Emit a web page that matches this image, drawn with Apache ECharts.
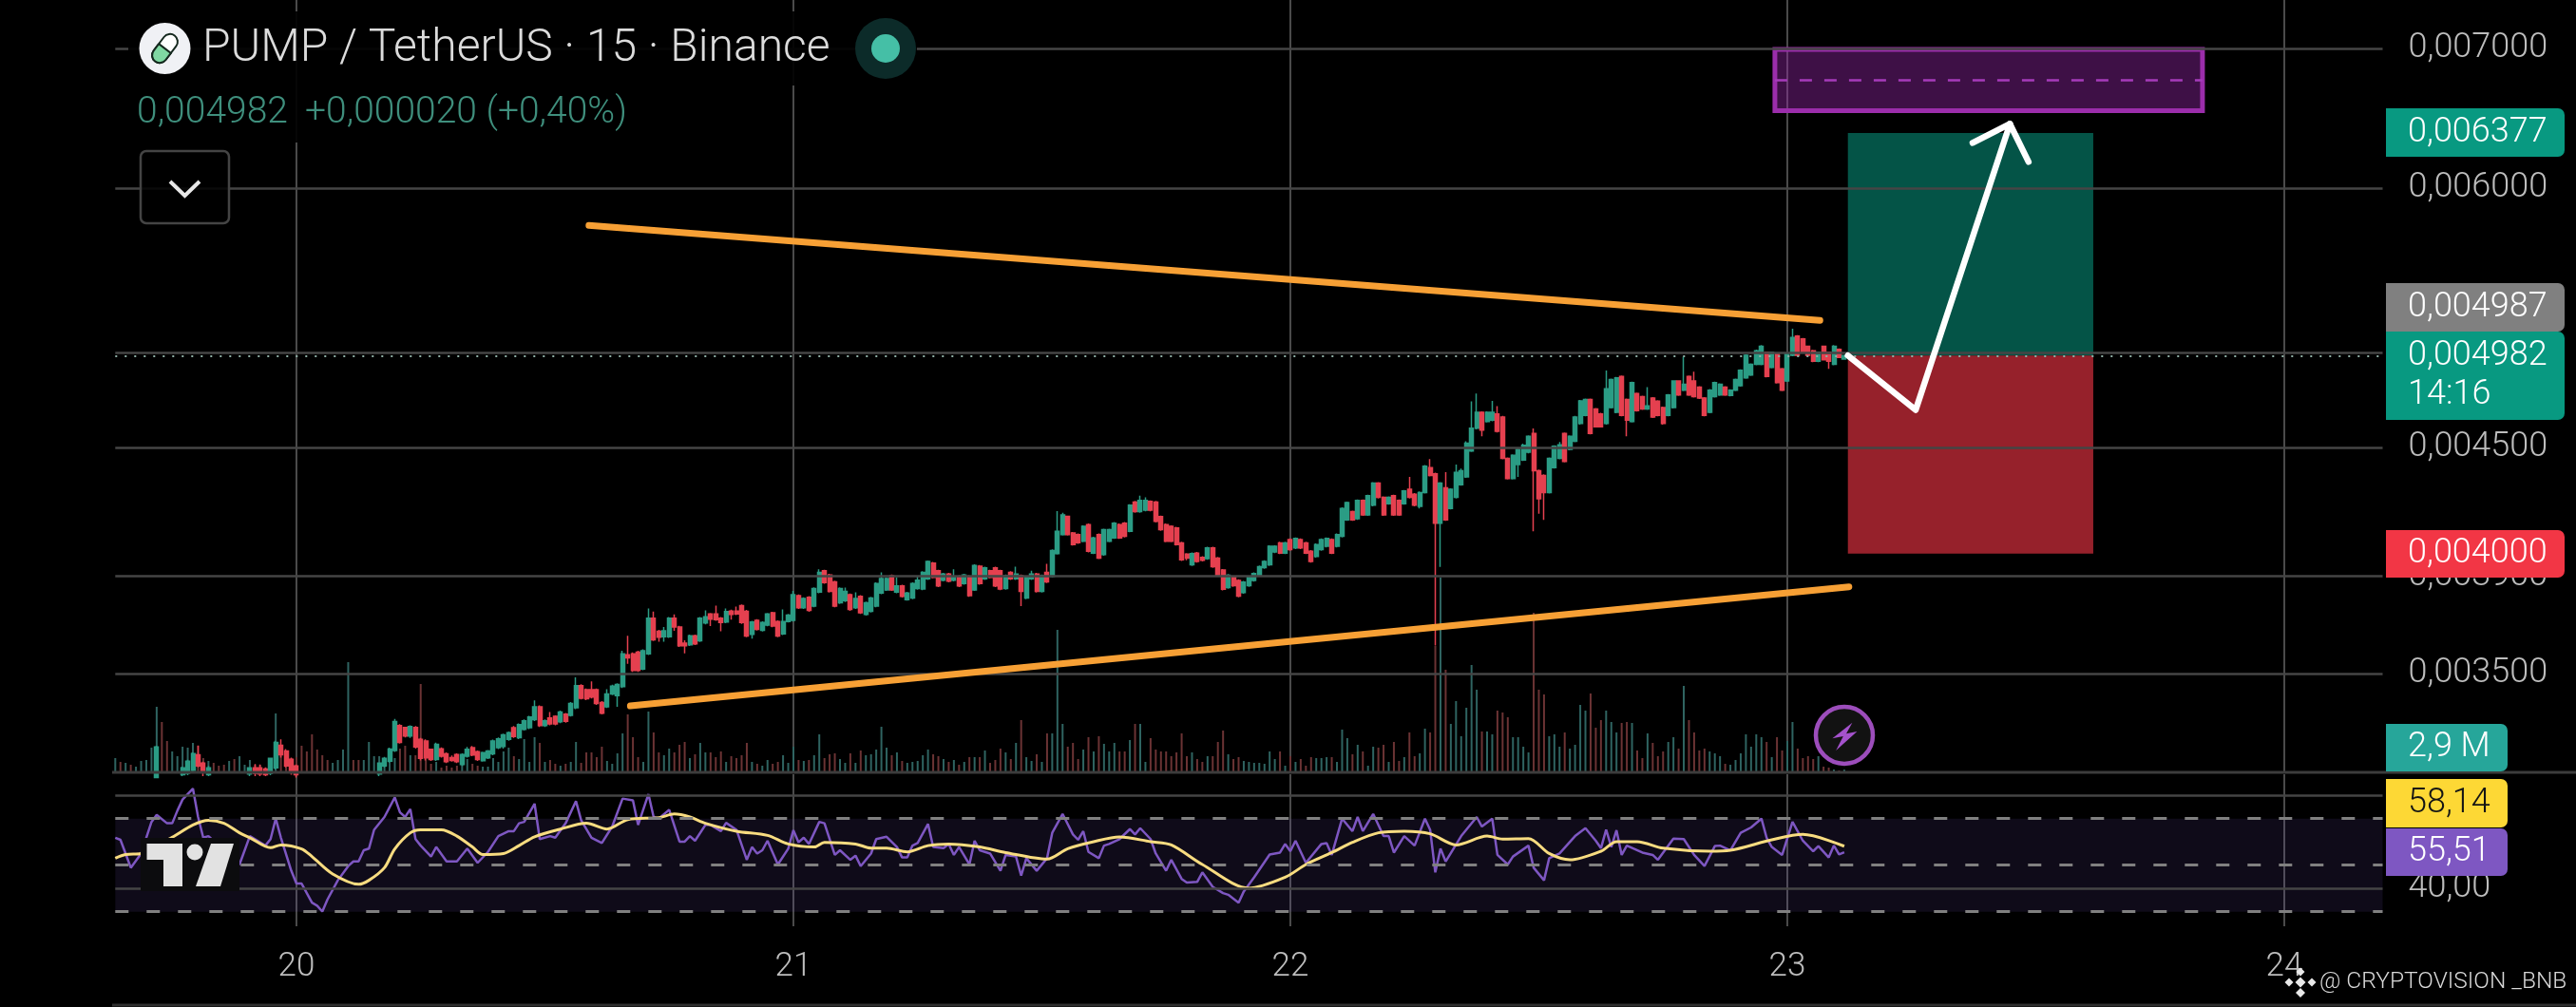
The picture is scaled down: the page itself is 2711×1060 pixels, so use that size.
<!DOCTYPE html>
<html><head><meta charset="utf-8">
<style>html,body{margin:0;padding:0;background:#000}#c{width:2711px;height:1060px}</style>
<script src="https://cdn.jsdelivr.net/npm/echarts@6/dist/echarts.min.js"></script>
</head><body><div id="c"></div>
<script>
// Prices are in millionths of USDT; 15-minute candles.
const opens=[3095,3100,3092,3098,3090,3094,3102,3108,3120,3120,
3112,3105,3110,3130,3135,3145,3200,3170,3130,3125,
3118,3110,3104,3112,3106,3112,3132,3154,3154,3150,
3135,3154,3234,3213,3184,3160,3130,3122,3115,3104,
3096,3090,3086,3094,3100,3108,3114,3110,3104,3112,
3118,3132,3160,3177,3215,3305,3298,3267,3298,3255,
3249,3219,3183,3221,3203,3190,3201,3165,3195,3225,
3211,3179,3189,3203,3225,3229,3255,3297,3261,3291,
3297,3327,3375,3305,3333,3339,3319,3347,3343,3371,
3455,3439,3439,3439,3391,3375,3423,3417,3451,3575,
3579,3585,3519,3579,3723,3669,3647,3647,3723,3687,
3621,3615,3651,3631,3703,3741,3741,3723,3707,3753,
3753,3775,3752,3657,3714,3673,3695,3746,3709,3659,
3709,3714,3817,3766,3810,3773,3832,3924,3906,3876,
3787,3796,3821,3766,3814,3739,3752,3773,3828,3842,
3903,3832,3859,3800,3807,3848,3846,3889,3958,3924,
3883,3910,3883,3900,3869,3900,3842,3944,3889,3924,
3937,3924,3848,3917,3889,3903,3807,3889,3910,3835,
3917,3900,4000,4085,4168,4092,4085,4055,4130,4002,
4085,3995,4055,4070,4130,4137,4100,4235,4190,4197,
4238,4235,4167,4130,4122,4115,4047,3997,3950,4002,
3983,3977,4025,3980,3927,3852,3897,3882,3830,3860,
3882,3905,3938,3950,4007,4047,4002,4062,4025,4062,
4047,4010,3987,4017,4032,4062,4032,4077,4152,4190,
4157,4242,4175,4220,4325,4257,4227,4265,4242,4227,
4295,4272,4215,4280,4400,4370,4137,4302,4205,4257,
4317,4355,4482,4596,4678,4630,4637,4670,4654,4445,
4347,4415,4437,4475,4570,4385,4362,4280,4400,4445,
4570,4490,4530,4620,4662,4745,4695,4670,4620,4703,
4678,4868,4745,4630,4777,4760,4695,4752,4736,4703,
4662,4703,4843,4794,4868,4843,4810,4752,4678,4760,
4769,4810,4766,4794,4818,4860,4876,4934,4934,5000,
4917,4992,4909,4843,4983,5091,5075,5033,5008,4950,
5033,5000,4934,5016,4962];
const closes=[3100,3092,3098,3090,3094,3102,3108,3120,3228,3112,
3105,3110,3125,3154,3177,3204,3160,3137,3154,3118,
3110,3104,3112,3106,3112,3125,3154,3135,3132,3130,
3187,3244,3200,3160,3137,3130,3122,3115,3104,3096,
3090,3086,3094,3100,3108,3114,3110,3104,3112,3118,
3126,3170,3187,3220,3320,3244,3267,3302,3228,3187,
3189,3183,3237,3195,3175,3180,3175,3201,3219,3199,
3183,3207,3213,3249,3257,3271,3279,3265,3309,3323,
3337,3375,3305,3323,3311,3311,3355,3321,3387,3455,
3407,3405,3411,3387,3351,3423,3453,3459,3579,3563,
3513,3513,3591,3723,3635,3645,3671,3723,3687,3611,
3611,3651,3619,3723,3729,3719,3717,3705,3751,3739,
3741,3705,3650,3707,3677,3705,3741,3691,3650,3709,
3736,3821,3766,3805,3755,3848,3917,3873,3835,3773,
3848,3835,3759,3805,3746,3787,3807,3869,3890,3890,
3842,3859,3814,3828,3869,3883,3917,3965,3896,3859,
3910,3879,3900,3859,3906,3817,3947,3869,3937,3896,
3859,3846,3903,3889,3910,3835,3896,3910,3835,3903,
3876,4013,4100,4175,4085,4040,4048,4122,4010,4070,
3980,4107,4107,4137,4070,4077,4220,4190,4242,4242,
4197,4145,4107,4055,4055,4040,3972,3980,4000,3965,
3970,4025,3942,3905,3845,3905,3860,3815,3875,3897,
3912,3942,3965,4032,4032,4002,4047,4017,4067,4025,
4002,3965,4040,4062,4067,4002,4085,4205,4232,4152,
4242,4175,4265,4325,4257,4175,4257,4175,4175,4287,
4257,4220,4280,4407,4362,4137,4325,4152,4295,4377,
4385,4520,4596,4678,4587,4678,4678,4580,4445,4347,
4460,4490,4510,4555,4385,4250,4280,4445,4505,4512,
4430,4555,4653,4737,4745,4570,4604,4604,4802,4851,
4860,4662,4637,4835,4687,4695,4712,4653,4662,4620,
4769,4843,4769,4826,4769,4760,4752,4662,4794,4835,
4826,4769,4794,4851,4901,4983,4934,5008,5033,4868,
5000,4835,4794,4992,5083,4983,5000,4983,4950,5000,
4959,4950,5033,4972,4982];
const lows=[3090,3088,3086,3085,3086,3090,3098,3104,3130,3105,
3098,3100,3106,3125,3128,3140,3155,3125,3125,3110,
3102,3098,3100,3100,3102,3108,3125,3125,3125,3125,
3128,3148,3190,3155,3130,3120,3115,3108,3098,3090,
3084,3080,3082,3090,3096,3102,3105,3100,3100,3108,
3114,3125,3155,3172,3210,3240,3262,3260,3222,3180,
3180,3178,3178,3190,3170,3175,3170,3160,3190,3195,
3178,3175,3185,3198,3220,3222,3250,3260,3256,3287,
3292,3322,3300,3300,3306,3306,3314,3316,3338,3366,
3402,3400,3406,3382,3346,3370,3418,3375,3446,3539,
3508,3508,3514,3574,3630,3627,3627,3642,3671,3606,
3581,3610,3614,3626,3698,3691,3712,3669,3702,3717,
3736,3700,3645,3640,3672,3668,3690,3686,3645,3654,
3705,3709,3761,3761,3750,3768,3827,3868,3830,3768,
3782,3790,3754,3761,3741,3734,3747,3768,3823,3837,
3837,3827,3809,3796,3802,3843,3841,3884,3891,3854,
3878,3874,3878,3854,3864,3812,3837,3864,3884,3891,
3854,3841,3843,3884,3884,3773,3802,3884,3830,3830,
3871,3895,3995,4080,4080,4035,4043,4050,4005,3997,
3975,3990,4050,4065,4065,4072,4095,4185,4185,4192,
4192,4140,4102,4050,4050,4035,3967,3970,3945,3960,
3965,3972,3937,3900,3840,3847,3855,3810,3825,3855,
3877,3900,3933,3945,4002,3997,3997,4012,4020,4020,
3997,3960,3982,4012,4027,3997,4027,4072,4147,4147,
4152,4170,4170,4215,4252,4170,4222,4170,4170,4222,
4252,4215,4205,4275,4357,3612,3941,4147,4200,4252,
4312,4350,4477,4590,4555,4625,4632,4575,4440,4342,
4342,4355,4432,4470,4100,4180,4152,4275,4395,4440,
4425,4485,4525,4615,4657,4565,4600,4600,4615,4698,
4673,4657,4555,4625,4682,4690,4690,4648,4657,4615,
4657,4698,4764,4789,4764,4755,4747,4657,4673,4755,
4764,4764,4761,4789,4813,4855,4871,4929,4929,4863,
4912,4830,4789,4838,4978,4978,4995,4978,4945,4945,
4954,4909,4929,4967,4960];
const highs=[3106,3104,3102,3101,3099,3106,3112,3124,3232,3125,
3116,3114,3130,3158,3182,3208,3233,3175,3160,3130,
3122,3114,3116,3118,3118,3130,3156,3167,3165,3155,
3190,3250,3255,3220,3190,3165,3134,3126,3120,3108,
3100,3094,3098,3104,3112,3120,3118,3114,3116,3122,
3130,3172,3192,3225,3330,3310,3300,3306,3303,3260,
3255,3222,3243,3226,3208,3197,3205,3205,3228,3231,
3215,3211,3217,3254,3262,3276,3283,3303,3313,3328,
3341,3399,3380,3328,3355,3343,3360,3352,3392,3487,
3460,3444,3471,3444,3396,3441,3458,3464,3591,3651,
3584,3591,3597,3763,3751,3675,3687,3728,3739,3692,
3633,3656,3656,3728,3755,3745,3775,3728,3763,3758,
3771,3780,3757,3712,3719,3710,3745,3750,3714,3759,
3741,3837,3822,3810,3815,3853,3931,3929,3911,3881,
3853,3852,3826,3831,3819,3792,3812,3874,3917,3895,
3908,3896,3864,3833,3874,3903,3922,3969,3963,3929,
3915,3915,3931,3905,3911,3905,3952,3949,3942,3929,
3942,3929,3908,3922,3942,3908,3901,3924,3915,3908,
3954,4018,4193,4185,4172,4097,4090,4127,4135,4075,
4090,4112,4112,4142,4135,4142,4225,4240,4265,4257,
4243,4240,4172,4135,4127,4120,4052,4002,4005,4007,
3988,4030,4030,3985,3932,3910,3902,3887,3880,3902,
3917,3947,3970,4037,4037,4052,4052,4067,4072,4067,
4052,4015,4045,4067,4072,4067,4090,4210,4237,4195,
4247,4247,4270,4330,4330,4262,4262,4270,4247,4292,
4355,4277,4285,4412,4442,4375,4330,4378,4300,4415,
4395,4530,4735,4777,4683,4683,4737,4710,4660,4450,
4465,4495,4518,4560,4595,4390,4367,4450,4510,4527,
4575,4560,4660,4742,4750,4750,4700,4675,4900,4856,
4865,4873,4750,4840,4782,4765,4810,4757,4741,4708,
4774,4848,4848,4975,4873,4893,4815,4757,4800,4840,
4831,4815,4799,4856,4906,4988,4939,5015,5040,5005,
5005,4997,4914,4997,5133,5096,5080,5038,5013,5005,
5038,5005,5040,5021,4985];
const volumes=[15,11,10,8,6,12,13,26,69,53,
33,22,17,27,26,31,28,15,12,10,
7,8,12,14,17,8,13,8,8,5,
15,62,28,22,15,16,28,22,40,24,
18,13,10,13,24,116,13,13,13,32,
17,17,13,15,15,25,28,18,18,93,
22,9,11,5,7,5,7,9,14,9,
7,6,6,15,11,22,26,17,14,35,
11,37,31,11,13,9,7,9,11,32,
10,21,21,16,27,12,9,20,41,61,
37,16,11,64,42,21,18,25,21,29,
32,15,19,31,21,21,16,22,11,17,
15,18,31,11,9,7,13,9,11,18,
10,27,13,12,13,18,40,15,19,20,
14,10,20,10,23,18,19,24,48,26,
18,21,12,10,11,12,18,24,19,17,
14,11,13,8,11,16,16,16,23,10,
13,25,21,14,31,55,16,12,19,11,
41,41,150,51,27,31,14,24,37,22,
38,30,22,31,22,22,34,51,51,11,
36,24,22,22,17,21,41,17,21,14,
11,17,17,32,44,19,14,16,12,11,
10,10,9,22,14,22,7,17,11,14,
7,16,15,15,16,16,11,45,36,19,
29,22,7,27,26,29,11,32,12,16,
42,17,20,46,42,133,205,108,51,75,
38,68,113,87,43,43,40,65,63,58,
37,37,27,21,168,87,82,38,40,27,
42,25,29,71,65,83,47,55,65,53,
42,52,53,52,23,15,41,31,17,22,
32,37,25,91,55,42,23,25,22,20,
17,9,8,13,20,40,27,40,37,32,
16,37,23,33,53,25,15,17,14,17,
6,5,3,2,2.9];
const rsiPoints=[[0,61.8],[1,60.9],[2,55],[3,48.9],[5,55],[7,68.6],[8,71.6],[10,68],[11,68],[12,73.4],[13,78.2],[15,82.9],[16,70.7],[17,61.8],[18,62.5],[20,58.4],[21,55],[22,52.3],[24,50.3],[26,62.5],[29,58.4],[30,61.2],[31,70],[32,61.8],[34,47.6],[35,42.1],[36,42.1],[38,33.9],[39,32.6],[40,30.1],[41,35.3],[43,43.5],[45,49.6],[46,51.6],[47,51.6],[48,56.4],[49,57.1],[50,65.2],[52,70.7],[54,79.1],[55,72.7],[56,70.7],[57,74.1],[58,61.2],[59,58.4],[61,53.7],[62,57.8],[64,51.6],[66,51.6],[68,57.1],[70,51],[72,55.7],[74,62.5],[76,64.6],[77,64.6],[78,68],[79,68.6],[81,76.4],[82,61.2],[84,62.5],[85,61.8],[87,68],[89,77.5],[90,69.3],[92,61.8],[94,59.5],[96,66.6],[98,78.6],[100,77.8],[101,67.3],[103,80.5],[104,70.7],[105,70],[107,73.8],[109,60.1],[110,60.1],[111,62.5],[112,60.5],[114,67.3],[115,67.3],[117,64.6],[118,68.2],[120,65.2],[122,52.3],[123,57.8],[124,55],[125,56.4],[126,60.5],[128,50.3],[130,57.1],[131,65],[132,59.8],[133,61.8],[134,59.1],[136,68.6],[137,68],[139,54.4],[140,56.4],[142,52.3],[143,54.1],[144,49.6],[146,55],[147,61.2],[149,62.2],[151,57.8],[152,53.3],[153,53.3],[154,58.4],[155,59.5],[157,67.7],[158,57.8],[160,57.3],
[161,59.1],[162,54.4],[163,57.8],[165,50.3],[166,60.5],[167,56.4],[169,55],[171,47.6],[172,54.4],[174,53.7],[175,45.5],[176,53],[178,47.6],[180,53],[181,63.9],[183,72],[185,63.2],[186,60.9],[187,64.6],[188,55.7],[190,53],[191,58.4],[192,59.1],[194,61.2],[196,65.5],[197,63.2],[198,65.9],[200,61.2],[201,55],[203,47.6],[204,52.3],[206,44.1],[207,42.5],[209,42.8],[210,46.9],[212,40.7],[214,38],[215,37.3],[217,33.9],[218,38.7],[220,44.8],[223,54.6],[225,55.4],[226,59.1],[227,56],[228,60.5],[230,51],[233,59.1],[234,59.5],[235,54.4],[237,70],[239,64.6],[240,70.7],[241,64.6],[243,72],[245,62.5],[246,62.5],[247,55.4],[249,62.5],[251,58.4],[253,70],[254,65.2],[255,46.9],[256,57.1],[257,51.6],[260,62.5],[263,70.7],[264,66.6],[266,70],[267,54.4],[269,50.3],[270,53.7],[273,58.4],[274,48.9],[276,43.5],[277,53],[279,55],[282,62.5],[284,65.9],[286,60.5],[287,57.3],[288,65.2],[289,57.8],[290,65],[291,54.4],[292,58.4],[295,55.4],[297,54.4],[298,52.3],[301,61.4],[303,61.2],[305,54.4],[307,49.6],[309,58.2],[310,58.4],[312,56.4],[314,63.9],[316,66.2],[318,70],[319,61.8],[320,57.8],[322,54.4],[324,68.6],[326,60.5],[328,56],[329,58.2],[331,53.3],[332,58.4],[333,54.6],[334,55.51]];
const rsiMaPoints=[[0,53],[2,54.6],[5,55],[11,62],[15,67.3],[18,69.3],[21,68],[24,63.9],[26,61.8],[30,57.5],[32,58.7],[36,57],[38,53.7],[42,46.2],[47,41.8],[49,43.5],[52,48.9],[54,57],[57,63.9],[59,65.2],[63,65.2],[66,62.5],[69,57.8],[71,54.6],[75,55],[78,58.4],[81,62.2],[86,65.5],[91,68],[95,65.5],[99,69.6],[105,70.4],[108,72],[111,70.7],[114,68],[120,64.6],[126,62.8],[130,59.1],[135,57.8],[137,59.8],[143,59.1],[146,57.3],[149,57.3],[153,55.7],[157,58.4],[161,59.1],[167,57.8],[172,55.4],[180,52.6],[184,57.1],[189,60.1],[194,62.1],[200,60.1],[204,58.7],[210,50.3],[219,40.1],[226,44.8],[230,50.3],[235,55.4],[239,59.8],[244,63.9],[249,64.6],[254,63.5],[259,58.7],[265,62.5],[268,61.2],[273,61.4],[277,55],[281,52.3],[287,56],[290,60.1],[294,60.1],[299,57.3],[308,56],[312,56.4],[320,60.9],[326,63.2],[334,58.14]];
const dayIndex=[35,131,227,323,419];
const dayLabels=['20','21','22','23','24'];
const priceTicks=[7000,6000,5000,4500,3900,3500];
const rsiGridLevels=[40,80];
const rsiBands=[70,50,30];
// Drawings, as [bar position, price]
const upperTrend=[[91.5,5755],[329.3,5180]];
const lowerTrend=[[99.5,3378],[334.9,3855]];
const arrowPath=[[334.7,4982],[347.8,4690],[366,6441]];
const arrowHead=[[358.8,6307],[366,6441],[369.6,6176]];
const longBox=[334.7,382.1,4982,6377];
const shortBox=[334.7,382.1,4000,4982];
const targetBox=[320.6,403.2,6537,6996];
const targetMid=6761;
const lastPrice=4982;

const barCount=439, M=1e6;
const categories=Array.from({length:barCount},(_,i)=>{const k=dayIndex.indexOf(i);return k>=0?dayLabels[k]:''});
const isDay=i=>dayIndex.includes(i);
const px=v=>v/M;
const candleData=opens.map((o,i)=>[px(o),px(closes[i]),px(lows[i]),px(highs[i])]);
const toPrice=a=>a.map(p=>[p[0],px(p[1])]);
const comma=(v,d)=>v.toFixed(d).replace('.',',');
const hLine=p=>[{coord:[0,px(p)]},{coord:[barCount-1,px(p)]}];

const L=121.3, W=2386.2;
const gridColor='#454545';
const baseX={type:'category',data:categories,boundaryGap:false,axisLine:{show:false},axisTick:{show:false},axisLabel:{show:false},splitLine:{show:false}};
const line=(data,color,width,extra)=>Object.assign({type:'line',xAxisIndex:3,yAxisIndex:0,data:data,symbol:'none',silent:true,animation:false,z:6,
  lineStyle:{color:color,width:width,cap:'round',join:'round'}},extra||{});
const box=(b,fill,border,bw)=>[{coord:[b[0],px(b[3])],itemStyle:{color:fill,borderColor:border||'transparent',borderWidth:bw||0}},{coord:[b[1],px(b[2])]}];

const font36='300 36px Roboto';
const tag=(x,y,w,h,fill,textFill,text,text2)=>{const out=[
  {type:'rect',z:60,shape:{x:x,y:y,width:w,height:h,r:[0,7,7,0]},style:{fill:fill}},
  {type:'text',z:61,style:{x:2534,y:text2?y+26:y+h/2,text:text,fill:textFill,font:font36,textVerticalAlign:'middle'}}];
  if(text2)out.push({type:'text',z:61,style:{x:2534,y:y+67,text:text2,fill:textFill,font:font36,textVerticalAlign:'middle'}});
  return out;};
const diamond=(cx,cy,r)=>({type:'polygon',z:61,shape:{points:[[cx,cy-r],[cx+r,cy],[cx,cy+r],[cx-r,cy]]},style:{fill:'#e8e8e8'}});

const graphic=[].concat(
 [{type:'line',z:40,shape:{x1:118,y1:813,x2:2711,y2:813},style:{stroke:'#3c3c3c',lineWidth:3}},
  {type:'line',z:40,shape:{x1:118,y1:1058,x2:2711,y2:1058},style:{stroke:'#2e2e2e',lineWidth:3}},
  {type:'rect',z:50,shape:{x:135,y:12,width:830,height:78},style:{fill:'rgba(0,0,0,0.92)'}},
  {type:'rect',z:50,shape:{x:135,y:90,width:545,height:60},style:{fill:'rgba(0,0,0,0.92)'}},
  {type:'circle',z:55,shape:{cx:173.5,cy:51,r:27},style:{fill:'#f0f1f5'}},
  {type:'group',z:56,x:173.5,y:51,rotation:-0.65,children:[
    {type:'rect',z:56,shape:{x:-8,y:-17,width:16,height:34,r:8},style:{fill:'#ffffff',stroke:'#14281e',lineWidth:2}},
    {type:'rect',z:57,shape:{x:-8,y:0,width:16,height:17,r:[0,0,8,8]},style:{fill:'#7fd8a2',stroke:'#14281e',lineWidth:2}}]},
  {type:'text',z:55,style:{x:213,y:52,text:'PUMP / TetherUS · 15 · Binance',fill:'#dcdcdc',font:'300 48px Roboto',textVerticalAlign:'middle'}},
  {type:'circle',z:55,shape:{cx:932,cy:51,r:32},style:{fill:'#0c2b29'}},
  {type:'circle',z:56,shape:{cx:932,cy:51,r:15},style:{fill:'#45bfa6'}},
  {type:'text',z:55,style:{x:144,y:119,text:'0,004982',fill:'#3f8f7d',font:'300 39px Roboto',textVerticalAlign:'middle'}},
  {type:'text',z:55,style:{x:321,y:119,text:'+0,000020 (+0,40%)',fill:'#3f8f7d',font:'300 39px Roboto',textVerticalAlign:'middle'}},
  {type:'rect',z:55,shape:{x:148,y:159,width:93,height:76,r:6},style:{fill:'rgba(0,0,0,0.85)',stroke:'#444',lineWidth:2.5}},
  {type:'polyline',z:56,shape:{points:[[179,191],[194.5,206],[210,191]]},style:{stroke:'#e8e8e8',lineWidth:4,fill:'none'}},
  // TradingView logo
  {type:'rect',z:50,shape:{x:148,y:882,width:104,height:56},style:{fill:'#0c0c0e'}},
  {type:'polygon',z:55,shape:{points:[[154.5,888],[192,888],[192,933],[172,933],[172,905],[154.5,905]]},style:{fill:'#e2e2e2'}},
  {type:'circle',z:55,shape:{cx:205,cy:897,r:8.5},style:{fill:'#e2e2e2'}},
  {type:'polygon',z:55,shape:{points:[[246,888],[222,888],[206,933],[232,933]]},style:{fill:'#e2e2e2'}},
  // bolt badge
  {type:'circle',z:55,shape:{cx:1941,cy:774,r:30},style:{fill:'#121212',stroke:'#9c4dbb',lineWidth:4.5}},
  {type:'polygon',z:56,shape:{points:[[1949.4,760.7],[1928.4,777.3],[1939.8,775],[1932.2,790],[1954.4,770],[1943,772.3]]},style:{fill:'#a452cc'}},
  // watermark
  diamond(2421,1034,5.5),diamond(2409,1034,4.5),diamond(2433,1034,4.5),diamond(2421,1023,4.5),diamond(2421,1045,5),
  {type:'text',z:61,style:{x:2441,y:1034,text:'@ CRYPTOVISION _BNB',fill:'#d8d8d8',font:'300 24.5px Roboto',textVerticalAlign:'middle'}}],
 tag(2511,114,188,51,'#089981','#ffffff','0,006377'),
 tag(2511,298,188,51,'#808080','#ffffff','0,004987'),
 tag(2511,349,188,93,'#089981','#ffffff','0,004982','14:16'),
 tag(2511,558,188,50,'#f23645','#ffffff','0,004000'),
 tag(2511,762,128,50,'#26a69a','#ffffff','2,9 M'),
 tag(2511,820,128,51,'#fdd835','#141414','58,14'),
 tag(2511,872,128,50,'#7e57c2','#ffffff','55,51')
);

const chart=echarts.init(document.getElementById('c'),null,{renderer:'canvas',width:2711,height:1060});
chart.setOption({
 animation:false,backgroundColor:'#000',
 grid:[{left:L,width:W,top:0,height:813},{left:L,width:W,top:413,height:400},{left:L,width:W,top:815,height:160}],
 xAxis:[
  Object.assign({},baseX,{gridIndex:0,splitLine:{show:true,interval:i=>isDay(i),lineStyle:{color:'#4a4a4a',width:2}}}),
  Object.assign({},baseX,{gridIndex:1}),
  Object.assign({},baseX,{gridIndex:2,splitLine:{show:true,interval:i=>isDay(i),lineStyle:{color:'#4a4a4a',width:2}},
    axisLabel:{show:true,interval:i=>isDay(i),color:'#bdbdbd',fontFamily:'Roboto',fontWeight:300,fontSize:35,margin:26}}),
  {type:'value',gridIndex:0,min:0,max:barCount-1,show:false}
 ],
 yAxis:[
  {type:'log',gridIndex:0,position:'right',min:0.003138,max:0.00739,scale:true,axisLine:{show:false},splitLine:{show:false},axisTick:{show:false},
   axisLabel:{show:true,customValues:priceTicks.map(px),margin:27,color:'#bdbdbd',fontFamily:'Roboto',fontWeight:300,fontSize:36,formatter:v=>comma(v,6)}},
  {type:'value',gridIndex:1,min:0,max:400,show:false},
  {type:'value',gridIndex:2,position:'right',min:23.76,max:89.06,axisLine:{show:false},splitLine:{show:false},axisTick:{show:false},
   axisLabel:{show:true,customValues:rsiGridLevels,margin:27,color:'#bdbdbd',fontFamily:'Roboto',fontWeight:300,fontSize:36,formatter:v=>comma(v,2)}}
 ],
 series:[
  line([],'#000',0,{z:1,markLine:{silent:true,symbol:'none',animation:false,label:{show:false},lineStyle:{color:gridColor,width:2.5,type:'solid'},
     data:priceTicks.map(hLine)}}),
  {type:'bar',xAxisIndex:1,yAxisIndex:1,data:volumes,barWidth:2,silent:true,z:2,animation:false,
   itemStyle:{color:p=>closes[p.dataIndex]>=opens[p.dataIndex]?'#2f6461':'#6b3334'}},
  {type:'candlestick',xAxisIndex:0,yAxisIndex:0,data:candleData,barWidth:4.5,silent:true,z:4,animation:false,
   itemStyle:{color:'#2b9c85',color0:'#e5404f',borderColor:'#2b9c85',borderColor0:'#e5404f',borderWidth:1.5}},
  line([],'#000',0,{z:5,markLine:{silent:true,symbol:'none',animation:false,label:{show:false},lineStyle:{color:'#8fb0a6',width:2,type:[2,8]},data:[hLine(lastPrice)]}}),
  line([],'#000',0,{z:3,markArea:{silent:true,animation:false,data:[box(longBox,'rgba(8,153,129,0.55)'),box(shortBox,'rgba(242,54,69,0.62)')]}}),
  line([],'#000',0,{z:6,
    markArea:{silent:true,animation:false,data:[box(targetBox,'rgba(156,39,176,0.4)','#9b2dab',5)]},
    markLine:{silent:true,symbol:'none',animation:false,label:{show:false},lineStyle:{color:'#a63bbb',width:2.5,type:[13,13]},
      data:[[{coord:[targetBox[0],px(targetMid)]},{coord:[targetBox[1],px(targetMid)]}]]}}),
  line(toPrice(upperTrend),'#f7a035',7),
  line(toPrice(lowerTrend),'#f7a035',7),
  line(toPrice(arrowPath),'#ffffff',6.5,{z:7}),
  line(toPrice(arrowHead),'#ffffff',6.5,{z:7}),
  {type:'line',xAxisIndex:2,yAxisIndex:2,data:[],symbol:'none',silent:true,z:1,
   markArea:{silent:true,animation:false,itemStyle:{color:'rgba(135,100,225,0.11)'},data:[[{yAxis:rsiBands[2]},{yAxis:rsiBands[0]}]]},
   markLine:{silent:true,symbol:'none',animation:false,label:{show:false},
     data:rsiBands.map(v=>({yAxis:v,lineStyle:{color:'#808080',width:3,type:[14,19]}})).concat(rsiGridLevels.map(v=>({yAxis:v,lineStyle:{color:gridColor,width:2.5,type:'solid'}})))}},
  {type:'line',xAxisIndex:2,yAxisIndex:2,data:rsiPoints,symbol:'none',silent:true,z:3,animation:false,lineStyle:{color:'#7e57c2',width:2.5}},
  {type:'line',xAxisIndex:2,yAxisIndex:2,data:rsiMaPoints,symbol:'none',smooth:0.3,silent:true,z:4,animation:false,lineStyle:{color:'#f8dc80',width:3}}
 ],
 graphic:graphic
});
</script></body></html>
